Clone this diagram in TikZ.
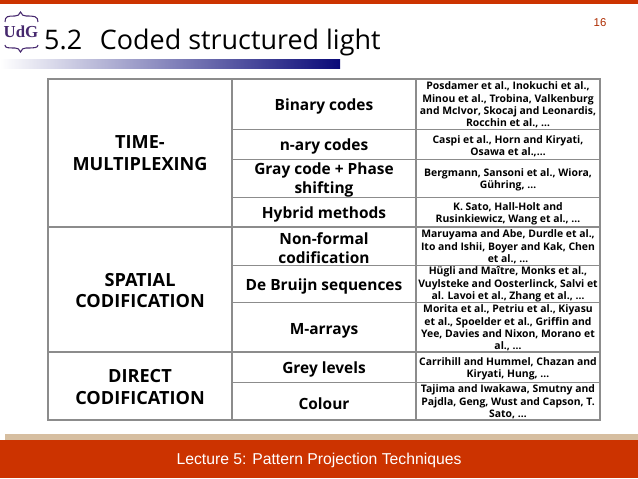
\documentclass[tikz,border=0pt]{standalone}
\usepackage{fontspec}
\setmainfont{Open Sans}
\newfontfamily\titlefont{Open Sans}
\newfontfamily\footfont{Liberation Sans}
\newfontfamily\logofont{Liberation Serif}
\definecolor{slidered}{RGB}{204,51,0}
\definecolor{slidetan}{RGB}{214,190,160}
\definecolor{slidenavy}{RGB}{10,10,120}
\definecolor{logopurple}{RGB}{70,40,110}
\definecolor{tablegrey}{RGB}{140,140,140}
\tikzset{
  grouplabel/.style={align=center, font=\fontsize{13.6}{16.4}\selectfont\bfseries},
  methodlabel/.style={align=center, font=\fontsize{11.6}{14.6}\selectfont\bfseries},
  authorlabel/.style={align=center, font=\fontsize{7.8}{9.25}\selectfont\bfseries},
  tableline/.style={draw=tablegrey, line width=0.5pt},
  tablebar/.style={draw=tablegrey, line width=0.8pt}
}
\begin{document}
\begin{tikzpicture}[x=0.75pt, y=-0.75pt]
  \useasboundingbox (0, 0) rectangle (638, 478);
  % bars
  \fill[slidered] (0, 0) rectangle (638, 4.5);
  \fill[slidetan] (5, 434) rectangle (638, 440);
  \fill[slidered] (0, 440) rectangle (638, 478);
  \shade[left color=white, right color=slidenavy] (0, 60) rectangle (340, 69);

  % heading
  \node[anchor=base west, font=\titlefont\fontsize{20.2}{26}\selectfont] (title) at (39.5, 49.5) {5.2\hspace{0.4em} Coded structured light};
  \node[font=\fontsize{8.5}{11}\selectfont\footfont, text=slidered!85!black] (pageno) at (600, 23) {16};
  \node[font=\footfont\fontsize{11.8}{14}\selectfont, text=white] (lecture) at (319, 460) {Lecture 5: Pattern Projection Techniques};

  % logo
  \node[font=\logofont\fontsize{12.6}{15}\selectfont\bfseries, text=logopurple] (logo) at (21, 32) {UdG};
  \draw[logopurple, line width=0.8pt] (5, 22) .. controls (5, 16) and (8, 16) .. (15, 16) .. controls (18, 16) and (19, 15) .. (20.5, 12) .. controls (22, 15) and (23, 16) .. (26, 16) .. controls (34, 16) and (38, 16) .. (38, 22);
  \draw[logopurple, line width=0.8pt] (5, 45) .. controls (5, 48) and (8, 48) .. (15, 48) .. controls (18, 48) and (19, 49) .. (20.5, 52) .. controls (22, 49) and (23, 48) .. (26, 48) .. controls (34, 48) and (38, 48) .. (38, 45);

  % table rules
  \draw[tablebar] (48, 79) rectangle (600, 420);
  \draw[tablebar] (232, 79) -- (232, 420);
  \draw[tablebar] (416, 79) -- (416, 420);
  \draw[tablebar] (48, 227) -- (600, 227);
  \draw[tablebar] (48, 352) -- (600, 352);
  \foreach \rowy in {129, 159, 197, 265, 302, 382}
    \draw[tableline] (232, \rowy) -- (600, \rowy);

  % first column
  \node[grouplabel] (time) at (140, 153.5) {TIME-\\MULTIPLEXING};
  \node[grouplabel] (spatial) at (140, 290.5) {SPATIAL\\CODIFICATION};
  \node[grouplabel] (direct) at (140, 387) {DIRECT\\CODIFICATION};

  % second column
  \node[methodlabel] (binary) at (324, 106.5) {Binary codes};
  \node[methodlabel] (nary) at (324, 146.5) {n-ary codes};
  \node[methodlabel] (gray) at (324, 180) {Gray code + Phase\\shifting};
  \node[methodlabel] (hybrid) at (324, 214.5) {Hybrid methods};
  \node[methodlabel] (nonformal) at (324, 248) {Non-formal\\codification};
  \node[methodlabel] (debruijn) at (324, 286.5) {De Bruijn sequences};
  \node[methodlabel] (marrays) at (324, 330.5) {M-arrays};
  \node[methodlabel] (grey) at (324, 369.5) {Grey levels};
  \node[methodlabel] (colour) at (324, 403.5) {Colour};

  % third column
  \node[authorlabel] (binaryref) at (508, 105) {Posdamer et al., Inokuchi et al.,\\Minou et al., Trobina, Valkenburg\\and McIvor, Skocaj and Leonardis,\\Rocchin et al., …};
  \node[authorlabel] (naryref) at (508, 146) {Caspi et al., Horn and Kiryati,\\Osawa et al.,…};
  \node[authorlabel] (grayref) at (508, 180) {Bergmann, Sansoni et al., Wiora,\\Gühring, …};
  \node[authorlabel] (hybridref) at (508, 214) {K. Sato, Hall-Holt and\\Rusinkiewicz, Wang et al., …};
  \node[authorlabel] (nonformalref) at (508, 247) {Maruyama and Abe, Durdle et al.,\\Ito and Ishii, Boyer and Kak, Chen\\et al., …};
  \node[authorlabel] (debruijnref) at (508, 284.5) {Hügli and Maître, Monks et al.,\\Vuylsteke and Oosterlinck, Salvi et\\al. Lavoi et al., Zhang et al., …};
  \node[authorlabel] (marraysref) at (508, 328) {Morita et al., Petriu et al., Kiyasu\\et al., Spoelder et al., Griffin and\\Yee, Davies and Nixon, Morano et\\al., …};
  \node[authorlabel] (greyref) at (508, 369) {Carrihill and Hummel, Chazan and\\Kiryati, Hung, …};
  \node[authorlabel] (colourref) at (508, 402) {Tajima and Iwakawa, Smutny and\\Pajdla, Geng, Wust and Capson, T.\\Sato, …};
\end{tikzpicture}
\end{document}
